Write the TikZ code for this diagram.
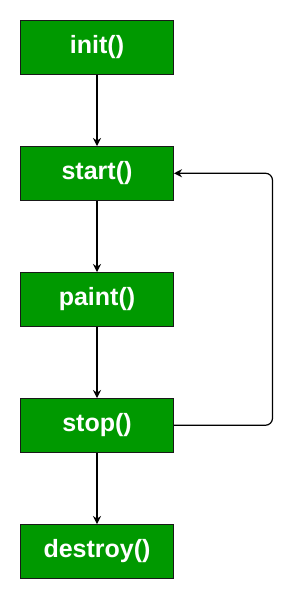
\documentclass[tikz,border=0pt]{standalone}
\usepackage{fontspec}
\setmainfont{Liberation Sans}
\usetikzlibrary{arrows.meta}
\definecolor{boxgreen}{HTML}{009900}
\begin{document}
\begin{tikzpicture}[x=1pt,y=-1pt,
  stagebox/.style={draw=black!90, line width=1pt, fill=boxgreen, minimum width=153pt, minimum height=53.5pt, inner sep=0pt, text=white, font=\fontsize{25}{29}\selectfont\bfseries},
  flow/.style={draw=black, line width=1.2pt, -{Stealth[length=8pt,width=8pt]}}]
\useasboundingbox (0,0) rectangle (301,600);
\node[stagebox] (init) at (97,47.25) {init()};
\node[stagebox] (start) at (97,173.25) {start()};
\node[stagebox] (paint) at (97,299.25) {paint()};
\node[stagebox] (stop) at (97,425.25) {stop()};
\node[stagebox] (destroy) at (97,551.25) {destroy()};
\draw[flow] (init) -- (start);
\draw[flow] (start) -- (paint);
\draw[flow] (paint) -- (stop);
\draw[flow] (stop) -- (destroy);
\draw[flow, rounded corners=7pt] (stop.east) -- (272.5,425.25) -- (272.5,173.25) -- (start.east);
\end{tikzpicture}
\end{document}
